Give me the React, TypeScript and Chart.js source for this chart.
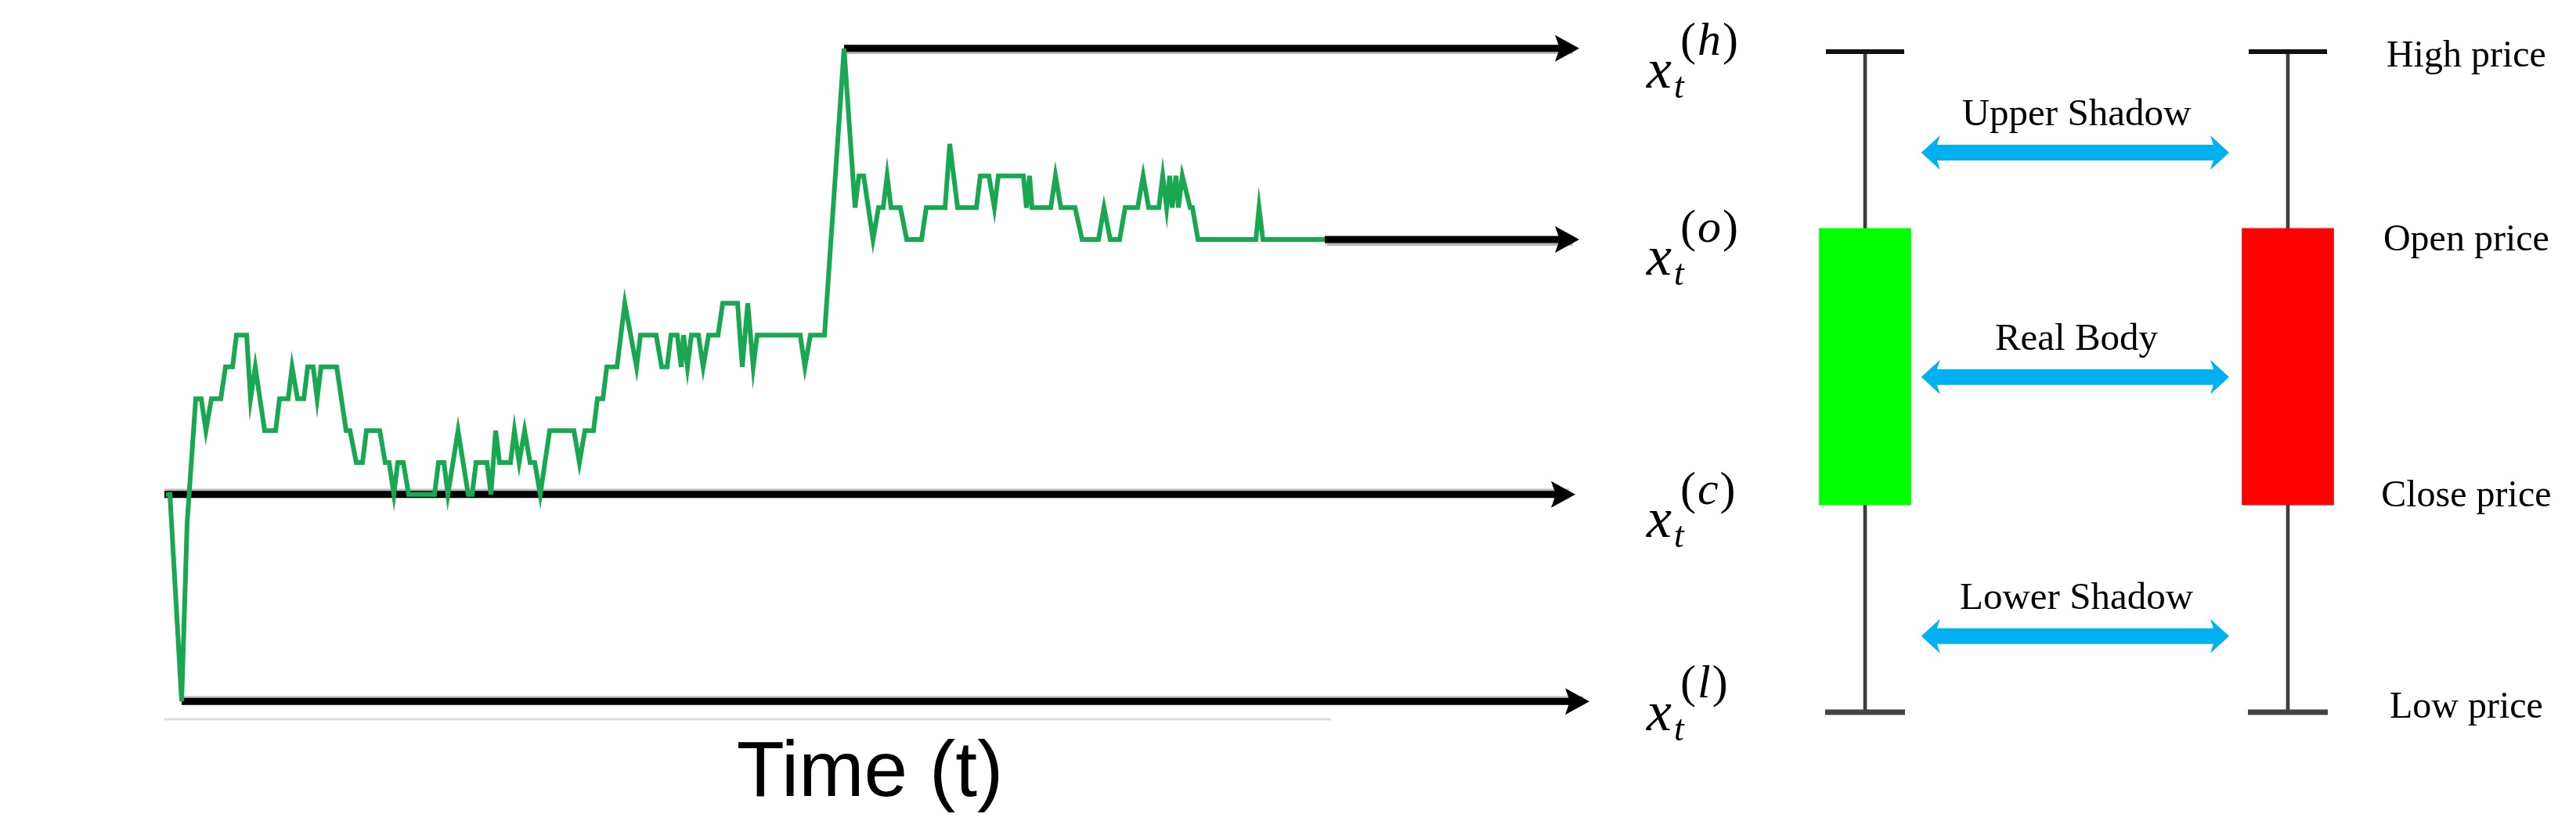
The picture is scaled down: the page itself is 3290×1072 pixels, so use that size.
import React, { useEffect, useRef } from 'react';
import { Chart, registerables } from 'chart.js';

Chart.register(...registerables);

// ---------- Left panel: price path over time ----------
const pathTimes = [
  0, 0.5, 2, 2.7, 3.8, 4.5, 5.1, 5.8, 7, 7.6,
  8.5, 9, 10.3, 10.8, 11.4, 12.6, 14, 14.5, 15.6, 16.1,
  16.8, 17.6, 18.1, 18.8, 19.3, 19.8, 21.8, 23, 23.5, 24.3,
  25.1, 25.6, 27.3, 28, 28.5, 29.1, 29.6, 30.3, 31, 34.3,
  34.8, 35.5, 36, 37.3, 38.6, 39.1, 39.6, 41, 41.5, 42.1,
  42.6, 44, 44.5, 45.1, 45.8, 46.5, 47.1, 47.8, 49, 52.1,
  52.8, 53.5, 54.6, 55.1, 55.8, 56.3, 57.6, 58.6, 60.1, 60.6,
  62.6, 63.3, 64, 64.5, 65.3, 65.8, 66.1, 66.6, 67.1, 68,
  68.6, 69.3, 70.5, 71.1, 73, 73.6, 74.3, 75, 75.5, 81,
  81.6, 82.3, 84.1, 86.6, 88, 88.5, 89.1, 90.3, 91, 91.6,
  92.1, 92.6, 93.8, 94.6, 96.5, 97.1, 99.5, 100.1, 101.1, 103.5,
  104, 105.1, 105.8, 106.3, 109.5, 109.9, 110.3, 110.6, 113, 113.6,
  114.3, 116.1, 117, 119.1, 119.8, 120.6, 121.8, 122.5, 124.1, 124.8,
  125.5, 126.8, 127.3, 127.8, 128.2, 128.5, 129, 129.3, 129.8, 130.8,
  131.1, 131.8, 139.2, 139.6, 140.1, 148,
];
const pathPrices = [
  100, 100, 93.5, 99.1, 103, 103, 102, 103, 103, 104,
  104, 105, 105, 103, 104, 102, 102, 103, 103, 104,
  103, 103, 104, 104, 103, 104, 104, 102, 102, 101,
  101, 102, 102, 101, 101, 100, 101, 101, 100, 100,
  101, 101, 100, 102, 100, 100, 101, 101, 100, 102,
  101, 101, 102, 101, 102, 101, 101, 100, 102, 102,
  101, 102, 102, 103, 103, 104, 104, 106, 104, 105,
  105, 104, 104, 105, 105, 104, 105, 104, 105, 105,
  104, 105, 105, 106, 106, 104, 106, 104, 105, 105,
  104, 105, 105, 114, 109, 110, 110, 108, 109, 109,
  110, 109, 109, 108, 108, 109, 109, 111, 109, 109,
  110, 110, 109, 110, 110, 109, 110, 109, 109, 110,
  109, 109, 108, 108, 109, 108, 108, 109, 109, 110,
  109, 109, 110, 109, 110, 109, 110, 109, 110, 109,
  109, 108, 108, 109, 108, 108,
];

// reference levels: high, open, close, low
const levelNames = ['h', 'o', 'c', 'l'];
const levelPrices = [114, 108, 100, 93.5];
const levelStarts = [86.6, 148, -0.2, 2];
const levelEnds = [179.7, 179.7, 179.2, 181.0];
const levelShadow = [3, 3, -3, -3];
const labelShift = [-4, -9, 0, -17];

const baselinePrice = 92.94;
const baselineStart = -0.2;
const baselineEnd = 148.8;

const timeTitle = 'Time (t)';

// ---------- Right panel: candlestick anatomy ----------
const candleX = [0, 1];
const candleHigh = [113.9, 113.9];
const candleOpen = [108.35, 108.35];
const candleClose = [99.67, 99.67];
const candleLow = [93.16, 93.16];
const candleColors = ['#00ff00', '#ff0000'];

const partNames = ['Upper Shadow', 'Real Body', 'Lower Shadow'];
const partPrices = [110.73, 103.68, 95.55];

const priceNames = ['High price', 'Open price', 'Close price', 'Low price'];
const priceNameBaselines = [113.43, 107.66, 99.63, 92.99];

// shared vertical range
const Y_MIN = 89.18;
const Y_MAX = 115.52;

const SERIF = '"Liberation Serif", "Times New Roman", serif';

const leftDecor = {
  id: 'leftDecor',
  beforeDatasetDraw(chart: any, args: any) {
    const ds: any = chart.data.datasets[args.index];
    if (ds.shadowY) {
      const ctx = chart.ctx;
      ctx.save();
      ctx.shadowColor = 'rgba(0,0,0,0.28)';
      ctx.shadowOffsetY = ds.shadowY;
      ctx.shadowOffsetX = 0;
      ctx.shadowBlur = 1;
    }
  },
  afterDatasetDraw(chart: any, args: any) {
    const ds: any = chart.data.datasets[args.index];
    if (ds.shadowY) chart.ctx.restore();
  },
  afterDatasetsDraw(chart: any) {
    const ctx = chart.ctx;
    const xs = chart.scales.x;
    const ys = chart.scales.y;
    // arrowheads
    chart.data.datasets.forEach((ds: any, i: number) => {
      if (!ds.arrow) return;
      const meta = chart.getDatasetMeta(i);
      const el = meta.data[meta.data.length - 1];
      const tip = el.x + 8;
      const y = el.y;
      ctx.save();
      ctx.fillStyle = '#000';
      ctx.beginPath();
      ctx.moveTo(tip, y);
      ctx.lineTo(tip - 31, y - 17);
      ctx.lineTo(tip - 25, y);
      ctx.lineTo(tip - 31, y + 17);
      ctx.closePath();
      ctx.fill();
      ctx.restore();
    });
    // x_t^(k) labels
    const labelT = 189.1;
    ctx.save();
    ctx.fillStyle = '#000';
    ctx.textAlign = 'left';
    ctx.textBaseline = 'alphabetic';
    levelNames.forEach((name, i) => {
      const y = ys.getPixelForValue(levelPrices[i]) + labelShift[i];
      const x0 = xs.getPixelForValue(labelT);
      ctx.font = `italic 72px ${SERIF}`;
      ctx.fillText('x', x0, y + 54);
      ctx.font = `italic 46px ${SERIF}`;
      ctx.fillText('t', x0 + 35, y + 67);
      let sx = x0 + 43;
      const sy = y + 12;
      ctx.font = `60px ${SERIF}`;
      ctx.fillText('(', sx, sy);
      sx += ctx.measureText('(').width + 2;
      ctx.font = `italic 60px ${SERIF}`;
      ctx.fillText(name, sx, sy);
      sx += ctx.measureText(name).width + 2;
      ctx.font = `60px ${SERIF}`;
      ctx.fillText(')', sx, sy);
    });
    // time title
    ctx.font = '100px "Liberation Sans", Arial, sans-serif';
    ctx.textAlign = 'center';
    ctx.fillText(timeTitle, xs.getPixelForValue(89.9), ys.getPixelForValue(90.53));
    ctx.restore();
  },
};

const rightDecor = {
  id: 'rightDecor',
  afterDatasetsDraw(chart: any) {
    const ctx = chart.ctx;
    const xs = chart.scales.x;
    const ys = chart.scales.y;
    const xl = xs.getPixelForValue(0.133);
    const xr = xs.getPixelForValue(0.861);
    const xm = xs.getPixelForValue((candleX[0] + candleX[1]) / 2);
    ctx.save();
    partPrices.forEach((p, i) => {
      const y = ys.getPixelForValue(p);
      ctx.fillStyle = '#00b0f0';
      ctx.beginPath();
      ctx.moveTo(xl, y);
      ctx.lineTo(xl + 24, y - 22);
      ctx.lineTo(xl + 20, y - 10);
      ctx.lineTo(xr - 20, y - 10);
      ctx.lineTo(xr - 24, y - 22);
      ctx.lineTo(xr, y);
      ctx.lineTo(xr - 24, y + 22);
      ctx.lineTo(xr - 20, y + 10);
      ctx.lineTo(xl + 20, y + 10);
      ctx.lineTo(xl + 24, y + 22);
      ctx.closePath();
      ctx.fill();
      ctx.fillStyle = '#000';
      ctx.font = `49px ${SERIF}`;
      ctx.textAlign = 'center';
      ctx.textBaseline = 'alphabetic';
      ctx.fillText(partNames[i], xm, y - 35);
    });
    const xp = xs.getPixelForValue(1.422);
    priceNames.forEach((name, i) => {
      ctx.fillStyle = '#000';
      ctx.font = `48px ${SERIF}`;
      ctx.textAlign = 'center';
      ctx.textBaseline = 'alphabetic';
      ctx.fillText(name, xp, ys.getPixelForValue(priceNameBaselines[i]));
    });
    ctx.restore();
  },
};

export default function App() {
  const leftRef = useRef<HTMLCanvasElement>(null);
  const rightRef = useRef<HTMLCanvasElement>(null);

  useEffect(() => {
    const pathData = pathTimes.map((t, i) => ({ x: t, y: pathPrices[i] }));
    const levelDatasets = levelPrices.map((p, i) => ({
      label: `x_t^(${levelNames[i]})`,
      data: [
        { x: levelStarts[i], y: p },
        { x: levelEnds[i], y: p },
      ],
      borderColor: '#000',
      borderWidth: 9,
      borderCapStyle: 'butt',
      pointRadius: 0,
      arrow: true,
      shadowY: levelShadow[i],
    }));

    const left = new Chart(leftRef.current as HTMLCanvasElement, {
      type: 'line',
      data: {
        datasets: [
          {
            label: 'price',
            data: pathData,
            borderColor: '#19a851',
            borderWidth: 6,
            pointRadius: 0,
            tension: 0,
          } as any,
          ...(levelDatasets as any[]),
          {
            label: 'axis',
            data: [
              { x: baselineStart, y: baselinePrice },
              { x: baselineEnd, y: baselinePrice },
            ],
            borderColor: '#dddddd',
            borderWidth: 3,
            pointRadius: 0,
          } as any,
        ],
      },
      options: {
        animation: false,
        responsive: false,
        events: [],
        layout: { padding: 0, autoPadding: false },
        plugins: { legend: { display: false }, tooltip: { enabled: false } },
        scales: {
          x: { type: 'linear', display: false, min: -21.2, max: 207.8 },
          y: { type: 'linear', display: false, min: Y_MIN, max: Y_MAX },
        },
      },
      plugins: [leftDecor],
    });

    const right = new Chart(rightRef.current as HTMLCanvasElement, {
      type: 'bar',
      data: {
        datasets: [
          {
            type: 'scatter',
            label: 'high cap',
            data: candleX.map((x, i) => ({ x, y: candleHigh[i] })),
            pointStyle: 'line',
            pointRadius: 50,
            pointBorderWidth: 6,
            pointBorderColor: '#111',
            borderColor: '#111',
          } as any,
          {
            type: 'scatter',
            label: 'low cap',
            data: candleX.map((x, i) => ({ x, y: candleLow[i] })),
            pointStyle: 'line',
            pointRadius: 51,
            pointBorderWidth: 7,
            pointBorderColor: '#444',
            borderColor: '#444',
          } as any,
          {
            type: 'bar',
            label: 'body',
            data: candleX.map((x, i) => ({ x, y: [candleClose[i], candleOpen[i]] })),
            backgroundColor: candleColors,
            borderWidth: 0,
            grouped: false,
            barThickness: 117,
            maxBarThickness: 117,
          } as any,
          {
            type: 'bar',
            label: 'wick',
            data: candleX.map((x, i) => ({ x, y: [candleLow[i], candleHigh[i]] })),
            backgroundColor: '#3c3c3c',
            borderWidth: 0,
            grouped: false,
            barThickness: 4,
            maxBarThickness: 4,
          } as any,
        ],
      },
      options: {
        animation: false,
        responsive: false,
        events: [],
        layout: { padding: 0, autoPadding: false },
        plugins: { legend: { display: false }, tooltip: { enabled: false } },
        scales: {
          x: { type: 'linear', display: false, offset: false, min: -0.1704, max: 1.6815 },
          y: { type: 'linear', display: false, min: Y_MIN, max: Y_MAX },
        },
      },
      plugins: [rightDecor],
    });

    return () => {
      left.destroy();
      right.destroy();
    };
  }, []);

  return (
    <div style={{ position: 'absolute', left: 0, top: 0, width: 3290, height: 1072, background: '#fff', overflow: 'hidden' }}>
      <canvas ref={leftRef} width={2290} height={1072} style={{ position: 'absolute', left: 0, top: 0 }} />
      <canvas ref={rightRef} width={1000} height={1072} style={{ position: 'absolute', left: 2290, top: 0 }} />
    </div>
  );
}
